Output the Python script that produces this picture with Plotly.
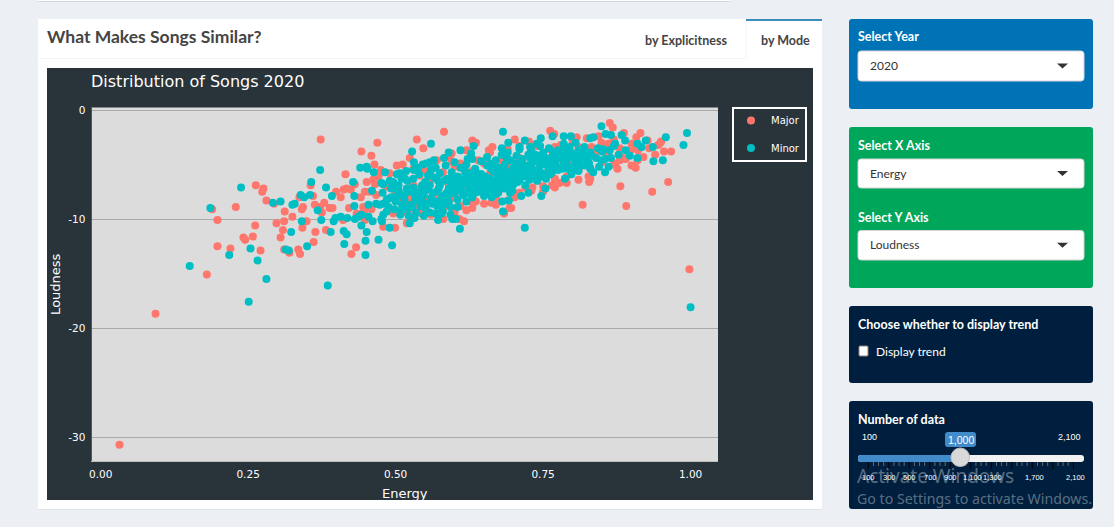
import plotly.graph_objects as go

# ---------- data ----------
major_energy = [
 .373,.469,.536,.442,.459,.464,.512,.524,.475,.502,.415,.471,.49,.462,.451,.465,
 .263,.276,.274,.281,.294,.229,.189,.198,.262,.258,.242,.245,.198,.22,.271,.18,
 .312,.325,.311,.298,.309,.305,.311,.32,.335,.338,.361,.364,.342,.349,.343,.341,
 .337,.36,.356,.363,.379,.372,.375,.388,.393,.382,.399,.407,.412,.417,.424,.431,
 .441,.448,.456,.467,.445,.421,.434,.411,.447,.459,.448,.479,.499,.519,.425,.433,
 .496,.505,.516,.53,.533,.485,.527,.524,.538,.544,.541,.53,
 .863,.868,.582,.887,.915,.908,.927,.949,.945,.955,.967,.962,.935,.881,.891,.817,
 .998,.907,.876,.828,.827,.765,.778,.732,.702,.684,.696,.693,.662,.616,.608,.581,
 .545,.551,.62,.596,.636,.762,.769,.63,.636,.547,.62,.595,.658,.664,.702,.726,
 .807,.824,.844,.849,.861,.77,.77,.832,.838,.9,.911,.92,.88,.886,.872,.595,.544,.558,
 .50,.51,.52,.53,.54,.55,.55,.56,.57,.57,.58,.58,.59,.59,.60,.60,.61,.61,.62,.62,
 .63,.63,.64,.64,.65,.65,.66,.66,.67,.67,.68,.68,.69,.69,.70,.70,.71,.71,.72,.72,
 .73,.73,.74,.74,.75,.75,.76,.76,.77,.77,.78,.78,.79,.79,.80,.80,.81,.81,.82,.83,
 .84,.85,.86,.87,.87,.88,.89,.90,.90,.91,.93,.94,.95,
 .52,.54,.56,.58,.60,.63,.65,.67,.69,.71,.73,.75,.77,.79,.81,.83,
 .093,.032]
major_loudness = [
 -2.7,-3.0,-2.7,-3.8,-4.2,-5.0,-5.0,-4.4,-5.5,-5.1,-5.9,-6.1,-5.8,-6.4,-6.6,-6.8,
 -6.9,-7.2,-7.5,-8.3,-8.6,-8.9,-9.1,-10.1,-10.6,-11.6,-11.7,-11.9,-12.5,-12.7,-12.9,-15.1,
 -9.3,-9.8,-10.2,-10.4,-11.0,-11.7,-12.8,-13.1,-12.8,-13.2,-12.1,-11.2,-10.8,-10.2,-8.9,-9.1,
 -8.0,-7.9,-6.9,-8.7,-8.5,-8.9,-9.4,-9.0,-9.0,-11.0,-7.5,-8.0,-7.3,-7.2,-7.3,-6.8,
 -8.0,-7.5,-7.5,-7.8,-8.9,-9.0,-9.5,-10.1,-9.2,-9.1,-10.1,-10.7,-10.8,-10.4,-13.2,-12.6,
 -9.5,-8.3,-8.9,-9.9,-9.2,-7.0,-6.9,-8.0,-8.6,-9.5,-6.0,-5.4,
 -1.2,-1.6,-2.0,-2.1,-2.1,-2.5,-2.8,-3.0,-3.2,-3.8,-3.8,-6.6,-7.5,-7.0,-8.8,-8.7,
 -14.6,-5.3,-5.4,-6.6,-6.1,-6.9,-6.7,-7.1,-8.0,-9.5,-9.0,-9.0,-8.5,-10.2,-10.0,-10.0,
 -9.5,-9.0,-9.2,-8.1,-8.4,-1.9,-2.2,-2.8,-3.0,-3.5,-3.7,-4.0,-3.7,-3.4,-2.7,-2.9,
 -2.5,-2.6,-2.4,-3.0,-3.1,-3.4,-4.0,-3.4,-4.1,-3.1,-3.7,-4.3,-4.6,-4.4,-4.9,-4.7,-5.5,-5.8,
 -7.5,-6.2,-8.6,-6.9,-7.2,-5.6,-8.3,-6.4,-7.7,-4.6,-5.7,-9.1,-6.8,-4.3,-7.9,-5.2,-8.8,-4.9,-6.1,-7.3,
 -5.6,-8.4,-4.6,-6.9,-7.8,-4.9,-5.8,-3.9,-6.7,-8.1,-4.6,-7.2,-5.2,-3.6,-6.4,-8.0,-4.4,-3.3,-5.9,-7.1,
 -3.9,-5.1,-6.5,-3.3,-4.7,-7.0,-5.6,-3.6,-4.5,-6.3,-3.2,-5.0,-6.1,-3.8,-4.6,-2.8,-5.5,-3.4,-4.2,-5.3,
 -3.7,-4.8,-3.9,-5.0,-2.7,-3.5,-4.5,-5.1,-3.6,-4.6,-3.5,-4.1,-2.9,
 -9.4,-8.9,-9.6,-8.9,-9.4,-9.0,-8.6,-8.7,-8.3,-7.6,-7.4,-7.5,-7.1,-6.7,-6.4,-6.3,
 -18.7,-30.7]

minor_energy = [
 .186,.238,.151,.218,.254,.266,.281,.385,.292,.305,.325,.329,.339,.345,.355,.357,
 .372,.382,.392,.368,.374,.341,.323,.314,.319,.35,.39,.395,.398,.407,.418,.412,
 .417,.413,.449,.449,.451,.442,.431,.437,.442,.454,.461,.43,.454,.467,.473,.479,
 .488,.485,.479,.476,.477,.49,.471,.494,.524,.521,.511,.512,.49,.493,.476,.479,
 .428,.44,.451,.452,.463,.482,.49,.496,.502,.507,.51,.516,.496,.505,.519,.527,
 .533,.533,.538,.528,.531,.531,.53,.251,
 .682,.849,.994,.988,.958,.953,.937,.91,.936,.924,.91,.917,.897,.89,.889,.883,
 .872,.865,.856,.835,.83,.797,.785,.766,.746,.719,.691,.68,.71,.728,.739,.56,
 .632,.628,.855,.861,.849,.878,.863,.843,.852,.713,.725,.747,.754,.681,.682,.692,
 .694,.719,.609,.593,.596,.602,.572,.568,.578,.578,.585,.605,.62,.635,.653,.663,
 .674,.558,.546,.787,.791,.802,
 .50,.505,.51,.515,.52,.525,.53,.535,.54,.54,.545,.55,.55,.555,.56,.56,.565,.57,.57,.575,
 .575,.58,.58,.585,.585,.59,.59,.595,.595,.60,.60,.605,.605,.61,.61,.615,.615,.62,.62,.625,
 .625,.63,.63,.63,.635,.635,.64,.64,.645,.645,.65,.65,.655,.655,.66,.66,.665,.665,.67,.67,
 .675,.675,.68,.68,.685,.685,.69,.69,.695,.695,.70,.70,.705,.705,.71,.71,.715,.715,.72,.72,
 .725,.725,.73,.73,.735,.735,.74,.74,.745,.745,.75,.75,.755,.755,.76,.76,.765,.765,.77,.775,
 .775,.78,.785,.785,.79,.79,.795,.795,.80,.805,.805,.81,.81,.815,.82,.82,.825,.83,.83,.835,
 .84,.845,.85,.855,.865,.87,
 .545,.555,.565,.585,.605,.625,.645,.665,.685,.705,.725,.745,.765,.785,.805,.825,
 .552,.568,.588,.612,.628,.648,.668,.688,.708,.728,.748,.768,.788,.808,.828,
 .562,.592,.618,.642,.662,.692,.712,.732,.752,.772,.792,.812,.832,
 .572,.598,.622,.652,.672,.698,.722,.742,.762,.782,.798,.818,
 .505,.515,.525,.535,.545,.548,.553,.558,.563,.567,.573,.577,.582,.587,.593,.597,
 .602,.607,.612,.617,.622,.627,.632,.637,.642,.647,.652,.657,.662,.667,.672,.677,
 .682,.687,.692,.697,.702,.707,.712,.717,.722,.727,.732,.737,.742,.747,.752,.757,
 .762,.767,.772,.777,.782,.787,.792,.797,.802,.807,.812,.817,
 .478,.485,.492,.498,.503,.508,.512,.518,.522,.528,.532,.538,.542,.548,.552,.558,
 .565,.582,.59,.61,.43,.46,
 1.0]
minor_loudness = [
 -9.0,-7.1,-14.3,-13.3,-12.7,-13.8,-15.5,-16.1,-8.5,-8.4,-8.7,-8.6,-7.8,-8.0,-7.8,-6.6,
 -5.5,-7.1,-7.9,-9.2,-10.1,-10.2,-11.2,-12.8,-12.9,-12.5,-11.2,-10.2,-9.9,-9.8,-9.9,-11.1,
 -11.4,-12.3,-13.3,-12.0,-11.2,-10.6,-10.0,-9.8,-9.6,-9.8,-10.2,-8.8,-8.7,-8.6,-8.7,-8.6,
 -8.9,-9.3,-9.6,-10.0,-10.2,-10.8,-11.9,-12.4,-10.4,-9.0,-8.7,-8.9,-8.1,-8.0,-6.7,-6.8,
 -6.6,-5.3,-5.2,-5.4,-5.7,-5.7,-6.5,-6.6,-5.9,-5.8,-6.3,-6.3,-7.2,-7.4,-7.2,-7.4,
 -7.8,-8.3,-8.0,-3.8,-4.8,-5.5,-6.3,-17.6,
 -2.0,-1.5,-2.1,-3.2,-2.5,-4.6,-4.7,-4.4,-3.4,-2.8,-3.1,-3.4,-4.2,-3.7,-2.8,-2.3,
 -3.1,-2.3,-2.2,-2.5,-2.6,-2.4,-2.4,-2.4,-2.6,-2.8,-3.0,-3.5,-3.4,-3.4,-3.1,-3.1,
 -3.3,-4.0,-5.7,-5.2,-4.6,-4.1,-3.7,-3.5,-3.6,-7.9,-7.6,-7.9,-7.2,-8.4,-9.3,-8.3,
 -7.6,-10.8,-10.9,-9.6,-10.0,-10.0,-10.1,-9.5,-9.5,-8.9,-8.6,-8.9,-8.4,-7.6,-7.7,-8.0,
 -7.6,-4.8,-5.0,-6.3,-5.4,-5.4,
 -8.4,-6.9,-9.2,-7.8,-6.5,-8.7,-7.1,-9.4,-7.6,-5.9,-8.3,-6.6,-9.0,-7.3,-5.5,-8.1,-6.2,-7.5,-8.8,-5.8,
 -6.9,-7.9,-9.3,-6.4,-5.1,-7.2,-8.4,-5.7,-6.7,-7.6,-4.8,-6.1,-8.2,-5.3,-7.0,-6.4,-7.8,-5.0,-6.8,-7.3,
 -5.8,-4.5,-6.2,-8.0,-7.0,-5.4,-6.5,-7.5,-4.7,-5.9,-6.9,-7.9,-5.1,-4.3,-6.3,-7.3,-5.6,-6.8,-4.6,-7.7,
 -5.3,-6.1,-4.1,-6.6,-5.0,-7.2,-5.7,-3.9,-6.3,-4.6,-5.3,-6.8,-4.2,-5.9,-6.4,-3.6,-5.0,-4.5,-5.7,-6.9,
 -4.1,-5.2,-6.2,-3.7,-4.7,-5.5,-6.5,-4.2,-3.3,-5.1,-5.8,-3.9,-4.6,-6.3,-5.3,-3.5,-4.3,-5.7,-4.9,-3.7,
 -5.5,-4.4,-3.1,-5.0,-4.0,-4.7,-3.4,-5.4,-4.2,-3.0,-4.8,-3.7,-5.6,-4.3,-5.1,-3.4,-4.6,-5.4,-3.9,-5.7,
 -4.4,-5.2,-3.8,-4.5,-4.4,-3.3,
 -7.1,-6.0,-8.5,-7.7,-6.6,-6.3,-5.9,-5.2,-6.1,-4.9,-5.6,-4.8,-4.7,-3.6,-4.1,-4.1,
 -6.7,-5.3,-6.3,-7.5,-5.9,-7.1,-6.5,-4.4,-5.6,-4.4,-5.0,-4.1,-3.7,-5.1,-4.9,
 -8.6,-7.7,-5.9,-7.2,-4.9,-6.0,-5.4,-4.8,-4.3,-4.5,-4.4,-4.6,-4.2,
 -6.5,-7.3,-4.5,-6.1,-5.9,-7.4,-6.0,-5.9,-5.0,-4.0,-5.9,-3.9,
 -7.4,-8.2,-7.5,-8.1,-6.9,-7.8,-8.6,-6.9,-7.6,-8.4,-7.2,-8.2,-6.5,-7.6,-8.9,-6.1,
 -7.2,-6.6,-7.5,-5.5,-6.3,-7.7,-6.7,-5.8,-7.1,-6.4,-7.5,-6.6,-5.4,-7.2,-6.4,-6.9,
 -5.6,-6.4,-6.8,-5.5,-6.0,-6.6,-5.5,-6.1,-5.1,-6.4,-5.6,-4.1,-5.5,-6.1,-4.3,-5.1,
 -5.9,-3.9,-5.2,-4.3,-5.4,-3.7,-5.2,-3.9,-5.2,-4.1,-5.0,-3.6,
 -7.6,-8.2,-7.2,-9.1,-7.9,-9.6,-6.0,-5.6,-9.7,-8.9,-9.9,-5.3,-8.8,-9.7,-4.9,-9.4,
 -4.6,-4.4,-3.9,-3.7,-7.9,-7.4,
 -18.1]

x_tick_values = [0, 0.25, 0.5, 0.75, 1.0]
x_tick_labels = ["0.00", "0.25", "0.50", "0.75", "1.00"]
y_tick_values = [0, -10, -20, -30]
y_tick_labels = ["0", "-10", "-20", "-30"]
slider_labels = [(868, "100"), (889, "300"), (909.5, "500"), (930, "700"), (950.5, "900"),
                 (972, "1,100"), (992.3, "1,300"), (1034, "1,700"), (1075, "2,100")]

W, H = 1114, 527
PAGE = "#ecf0f5"
DARK = "#29333a"
NAVY = "#001f3f"
UI = "Lato"
PLOTF = "DejaVu Sans"

def X(p): return p / W
def Y(p): return 1 - p / H

shapes, annos = [], []

def rect(x0, y0, x1, y1, fill, line=None, r=0, lw=1):
    if r:
        a, b, c, d = X(x0), X(x1), Y(y0), Y(y1)
        rx, ry = r / W, r / H
        path = (f"M{a+rx},{c} L{b-rx},{c} Q{b},{c} {b},{c-ry} L{b},{d+ry} Q{b},{d} {b-rx},{d} "
                f"L{a+rx},{d} Q{a},{d} {a},{d+ry} L{a},{c-ry} Q{a},{c} {a+rx},{c} Z")
        shapes.append(dict(type="path", xref="paper", yref="paper", path=path, fillcolor=fill,
                           line=dict(color=line or fill, width=lw if line else 0), layer="below"))
    else:
        shapes.append(dict(type="rect", xref="paper", yref="paper", x0=X(x0), x1=X(x1), y0=Y(y0), y1=Y(y1),
                           fillcolor=fill, line=dict(color=line or fill, width=lw if line else 0), layer="below"))

def seg(x0, y0, x1, y1, color, w=1):
    shapes.append(dict(type="line", xref="paper", yref="paper", x0=X(x0), x1=X(x1), y0=Y(y0), y1=Y(y1),
                       line=dict(color=color, width=w), layer="below"))

def text(x, y, s, size=12, color="white", anchor="left", font=UI):
    annos.append(dict(xref="paper", yref="paper", x=X(x), y=Y(y), text=s, showarrow=False,
                      xanchor=anchor, yanchor="middle", borderpad=0, borderwidth=0,
                      font=dict(family=font, size=size, color=color)))

def select(y0, y1, label):
    rect(858, y0, 1084, y1, "white", "#d5d5d5", 3)
    c = (y0 + y1) / 2
    text(870, c - 0.5, label, 12, "#333333")
    a, b = X(1057), X(1068)
    shapes.append(dict(type="path", xref="paper", yref="paper", layer="below",
                       path=f"M{a},{Y(c-2.5)} L{b},{Y(c-2.5)} L{X(1062.5)},{Y(c+2.5)} Z",
                       fillcolor="#333333", line=dict(width=0)))

# page furniture
rect(38, 0, 730, 1, "white"); seg(38, 1.5, 730, 1.5, "#d2d6de")
rect(38, 19, 822, 509, "white"); seg(38, 509.5, 822, 509.5, "#e2e5ea")
seg(38, 58.5, 746, 58.5, "#f4f4f4"); seg(746, 21, 746, 58, "#f4f4f4")
rect(746, 19, 822, 21, "#3c8dbc")
text(47, 37, "<b>What Makes Songs Similar?</b>", 17.5, "#444444")
text(645, 41, "<b>by Explicitness</b>", 12.5, "#444444")
text(761, 41, "<b>by Mode</b>", 12.5, "#444444")
rect(47, 68, 813, 500, DARK)
rect(91.5, 107.5, 718, 461, "#dcdcdc")
rect(733, 108, 806, 161, DARK, "white", lw=2)

# sidebar
rect(849, 19, 1093, 109, "#0073b7", r=3)
text(858, 37, "<b>Select Year</b>", 12.5)
select(51, 81, "2020")
rect(849, 127, 1093, 288, "#00a65a", r=3)
text(858, 145, "<b>Select X Axis</b>", 12.5)
select(159, 188, "Energy")
text(858, 217, "<b>Select Y Axis</b>", 12.5)
select(230.5, 260, "Loudness")
rect(849, 306, 1093, 383, NAVY, r=3)
text(858, 324, "<b>Choose whether to display trend</b>", 12.5)
rect(859, 346, 868, 356, "white", "#888888", 1)
text(876, 351, "Display trend", 12)
rect(849, 401, 1093, 509, NAVY, r=3)
text(858, 419, "<b>Number of data</b>", 12.5)
text(869, 437, "100", 9, anchor="center", font="Liberation Sans")
text(1069, 437, "2,100", 9, anchor="center", font="Liberation Sans")
rect(945, 432, 976, 447, "#428bca", r=3)
text(960.5, 439.5, "1,000", 10.5, anchor="center", font="Liberation Sans")
rect(858, 455, 1084, 462, "#f2f2f2", r=3)
rect(858, 455, 960, 462, "#428bca", r=3)
for i in range(41):
    tx = 868.3 + i * 5.125
    if i % 4 == 0:
        seg(tx, 462, tx, 469, "black")
    else:
        seg(tx, 462, tx, 466, "#666666")
shapes.append(dict(type="circle", xref="paper", yref="paper", layer="below",
                   x0=X(951), x1=X(969.5), y0=Y(448), y1=Y(466.5), fillcolor="#d9d9d9",
                   line=dict(color="#bdbdbd", width=1)))
for sx, s in slider_labels:
    text(sx, 477, s, 7.5, anchor="center", font="Liberation Sans")
text(857, 476, "Activate Windows", 19, "rgba(255,255,255,0.36)", font="Noto Sans")
text(857, 498, "Go to Settings to activate Windows.", 14.2, "rgba(255,255,255,0.36)", font="Noto Sans")

fig = go.Figure()
fig.add_trace(go.Scatter(x=major_energy, y=major_loudness, mode="markers", name="Major", legendgroup="Major",
                         marker=dict(color="#FF766D", size=8, line=dict(width=0))))
fig.add_trace(go.Scatter(x=minor_energy, y=minor_loudness, mode="markers", name="Minor", legendgroup="Minor",
                         marker=dict(color="#00BFC4", size=8, line=dict(width=0))))
fig.update_layout(
    width=W, height=H, autosize=False, margin=dict(l=0, r=0, t=0, b=0, autoexpand=False),
    paper_bgcolor=PAGE, plot_bgcolor="rgba(0,0,0,0)",
    shapes=shapes, annotations=annos,
    title=dict(text="Distribution of Songs 2020", x=X(91), xref="paper", xanchor="left",
               y=Y(81), yref="paper", yanchor="middle",
               font=dict(family=PLOTF, size=16, color="white")),
    font=dict(family=PLOTF, color="white"),
    legend=dict(x=X(731), xanchor="left", y=Y(106), yanchor="top", bgcolor="rgba(0,0,0,0)",
                borderwidth=0, font=dict(family=PLOTF, size=10, color="white"), tracegroupgap=8.5),
    xaxis=dict(domain=[X(91.5), X(718)], range=[-0.0155, 1.0465], tickvals=x_tick_values, ticktext=x_tick_labels,
               title=dict(text="Energy", standoff=10, font=dict(size=13, color="white")),
               tickfont=dict(size=10.5, color="white"), showgrid=False, zeroline=False,
               ticks="outside", ticklen=3, tickcolor=DARK,
               showline=True, linecolor="#bdbdbd", linewidth=1),
    yaxis=dict(domain=[Y(461), Y(107.5)], range=[-32.2, 0.23], tickvals=y_tick_values, ticktext=y_tick_labels,
               title=dict(text="Loudness", standoff=4, font=dict(size=13, color="white")),
               tickfont=dict(size=10.5, color="white"), showgrid=True, gridcolor="#a9a9a9", gridwidth=1,
               zeroline=False, ticks="outside", ticklen=3, tickcolor=DARK,
               showline=True, linecolor="#555555", linewidth=1),
)
fig.write_html("out.html", config=dict(displayModeBar=False),
               post_script="document.body.style.margin='0';document.body.style.background='#ecf0f5';document.body.style.overflow='hidden';")
